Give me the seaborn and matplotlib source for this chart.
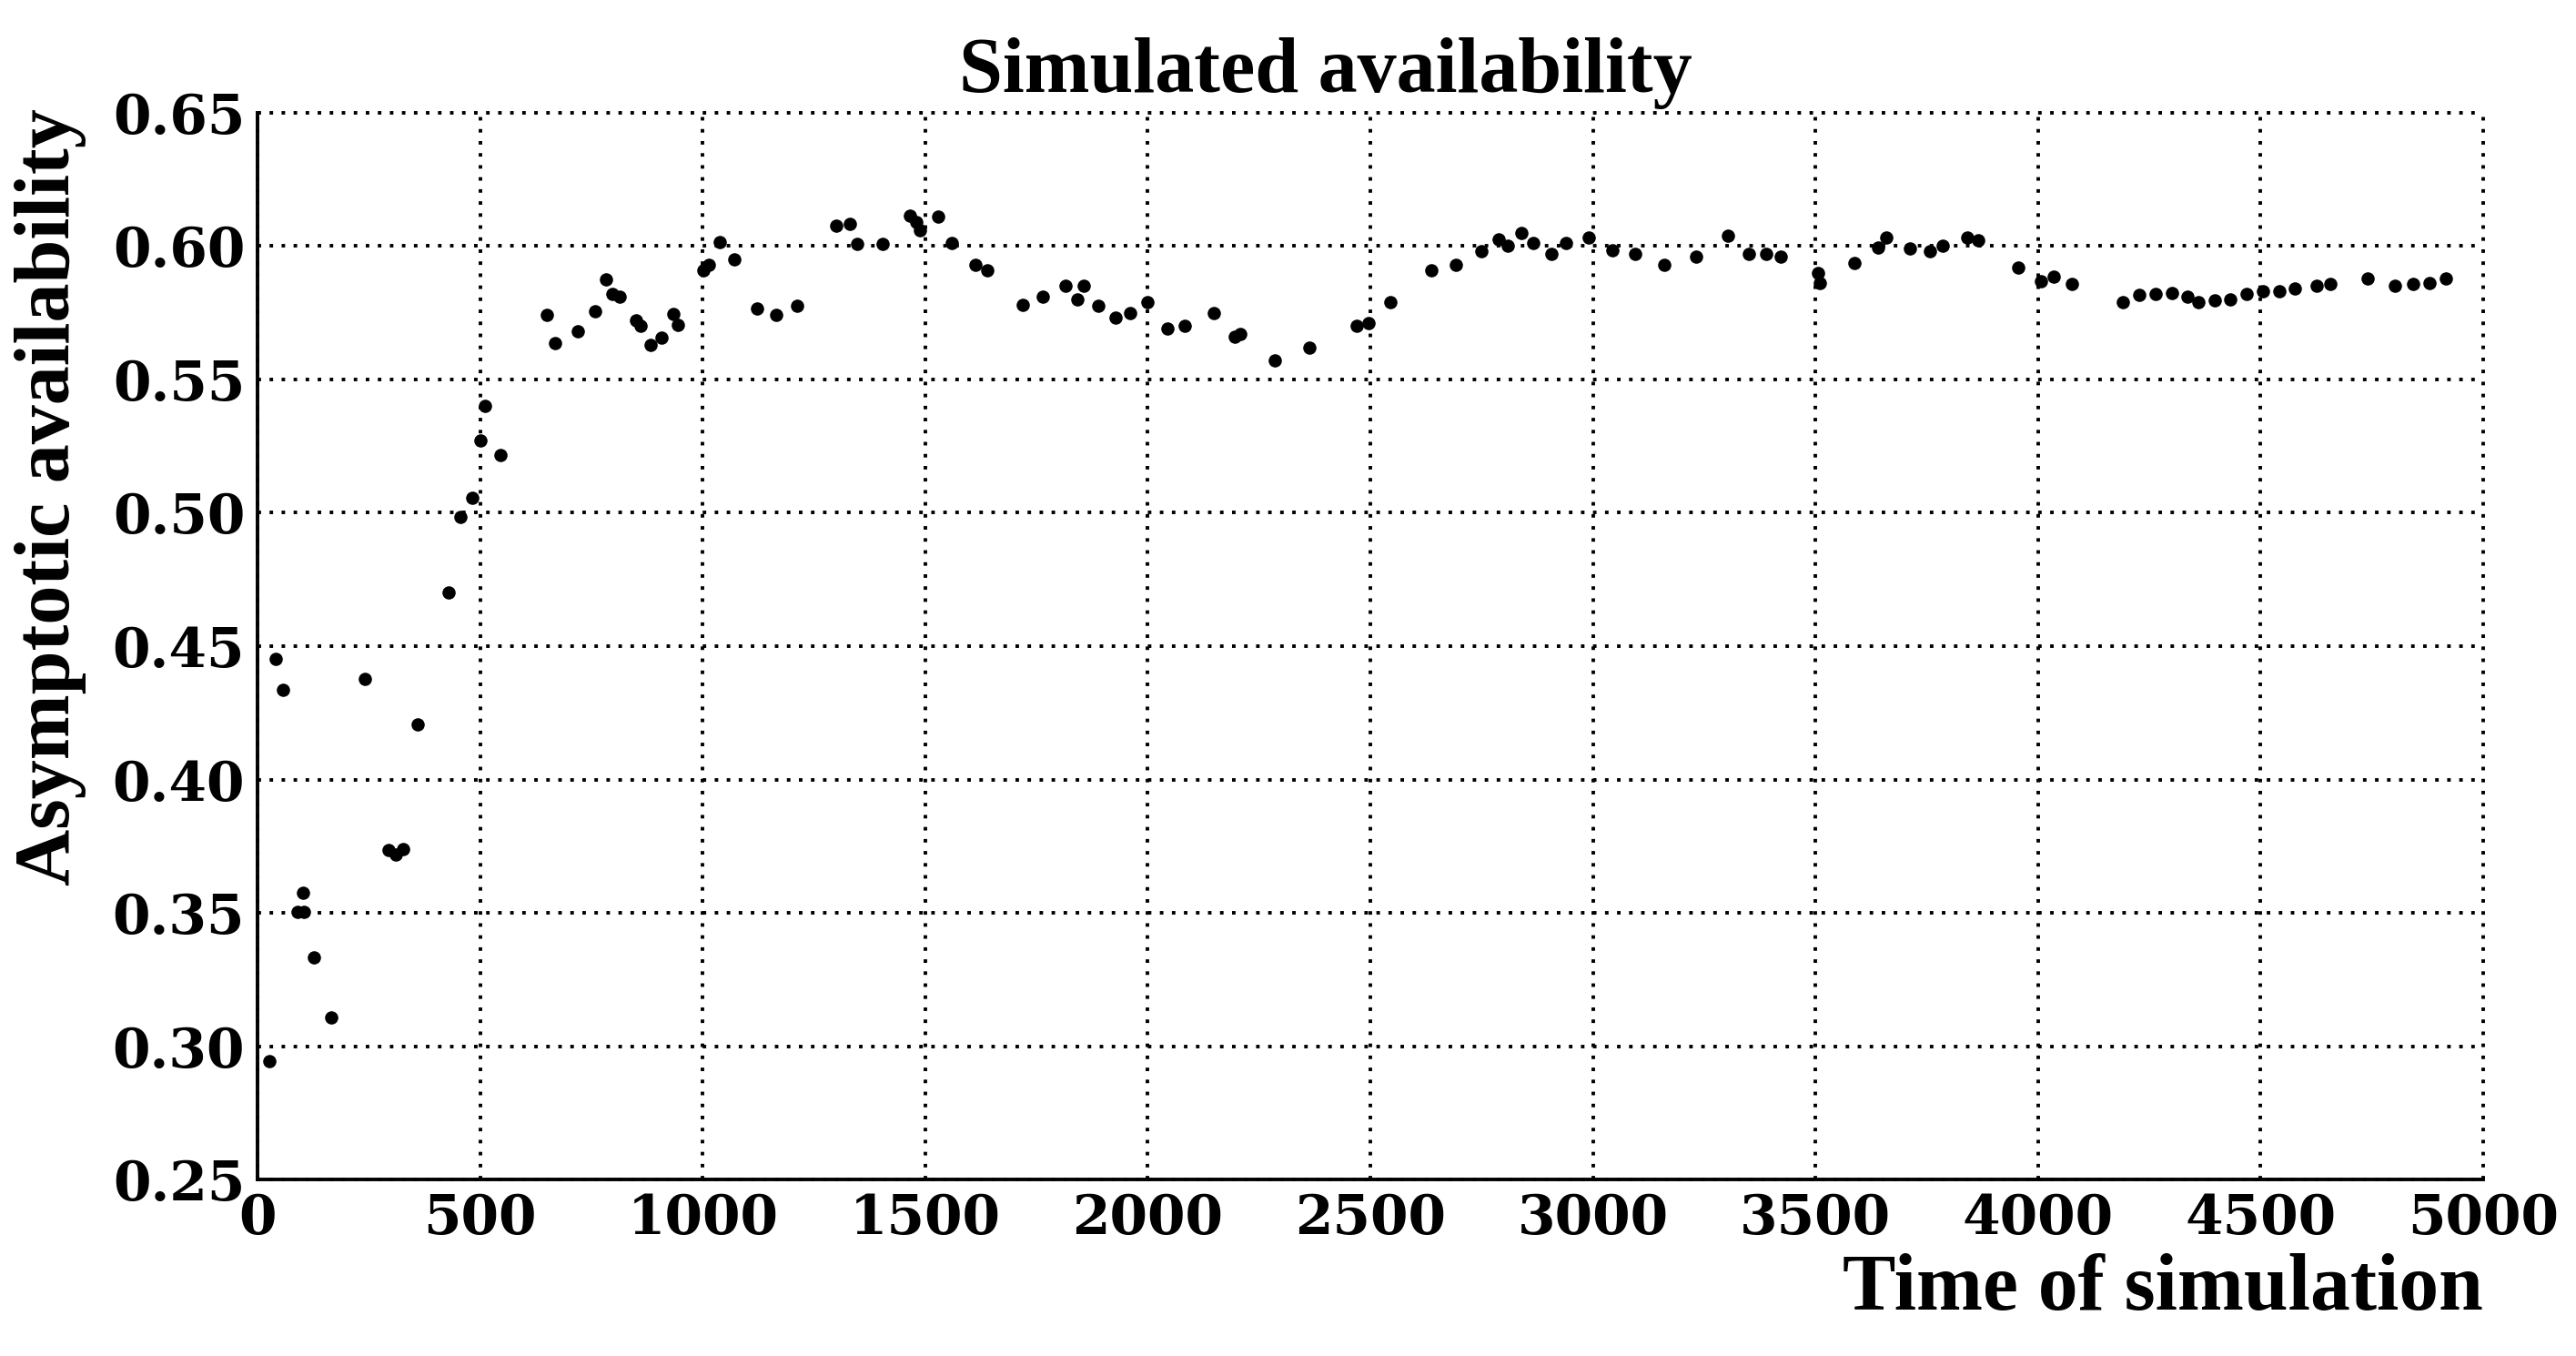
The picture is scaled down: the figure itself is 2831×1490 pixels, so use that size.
import matplotlib
matplotlib.use("Agg")
import matplotlib.pyplot as plt
import seaborn as sns
import pandas as pd

# values
sim_time = [26, 40, 57, 89, 102, 104, 127, 165, 242, 295, 310, 327, 360, 430, 456, 483, 501, 511, 546,
            650, 668, 720, 759, 783, 798, 814, 851, 861, 882, 908, 934, 945, 1002, 1013, 1039, 1070,
            1122, 1164, 1211, 1300, 1331, 1347, 1404, 1466, 1480, 1487, 1529, 1560, 1613, 1640, 1718,
            1764, 1815, 1842, 1855, 1888, 1927, 1960, 1999, 2044, 2083, 2149, 2195, 2208, 2286, 2362,
            2469, 2495, 2544, 2636, 2691, 2749, 2789, 2808, 2840, 2866, 2906, 2939, 2991, 3043, 3095,
            3160, 3232, 3304, 3350, 3389, 3422, 3505, 3510, 3587, 3641, 3659, 3713, 3756, 3786, 3841,
            3865, 3955, 4007, 4034, 4076, 4191, 4227, 4263, 4300, 4336, 4360, 4396, 4432, 4469, 4505,
            4541, 4577, 4626, 4656, 4740, 4801, 4843, 4879, 4915]
availability = [0.2945, 0.4451, 0.4335, 0.3505, 0.3577, 0.3505, 0.3335, 0.3107, 0.4378, 0.3735, 0.3720,
                0.3738, 0.4205, 0.4700, 0.4983, 0.5055, 0.5270, 0.5400, 0.5215,
                0.5743, 0.5636, 0.5680, 0.5755, 0.5875, 0.5820, 0.5810, 0.5720, 0.5700, 0.5628, 0.5657,
                0.5745, 0.5705, 0.5910, 0.5930, 0.6014, 0.5950, 0.5766, 0.5743, 0.5777, 0.6077, 0.6083,
                0.6008, 0.6008, 0.6112, 0.6090, 0.6060, 0.6110, 0.6010, 0.5930, 0.5910, 0.5780, 0.5810,
                0.5850, 0.5800, 0.5850, 0.5775, 0.5730, 0.5750, 0.5790, 0.5690, 0.5700, 0.5750, 0.5660,
                0.5670, 0.5570, 0.5620, 0.5700, 0.5710, 0.5790, 0.5910, 0.5930, 0.5980, 0.6025, 0.6000,
                0.6050, 0.6010, 0.5970, 0.6010, 0.6030, 0.5985, 0.5970, 0.5930, 0.5960, 0.6040, 0.5970,
                0.5970, 0.5960, 0.5900, 0.5860, 0.5937, 0.5995, 0.6030, 0.5990, 0.5980, 0.6000, 0.6030,
                0.6020, 0.5920, 0.5868, 0.5886, 0.5857, 0.5788, 0.5817, 0.5820, 0.5825, 0.5810, 0.5790,
                0.5796, 0.5800, 0.5820, 0.5830, 0.5830, 0.5840, 0.5851, 0.5857, 0.5877, 0.5851, 0.5857,
                0.5860, 0.5877]
x_ticks = [0, 500, 1000, 1500, 2000, 2500, 3000, 3500, 4000, 4500, 5000]
y_ticks = [0.25, 0.30, 0.35, 0.40, 0.45, 0.50, 0.55, 0.60, 0.65]

df = pd.DataFrame({"time": sim_time, "avail": availability})

sns.set_style("white")
plt.rcParams["font.family"] = ["Liberation Serif", "DejaVu Serif"]
plt.rcParams["text.color"] = "black"
plt.rcParams["axes.labelcolor"] = "black"

fig = plt.figure(figsize=(28.31, 14.90), dpi=100)
ax = fig.add_axes([0.100, 0.130, 0.864, 0.787])

sns.scatterplot(data=df, x="time", y="avail", ax=ax, color="black", s=110, linewidth=0)

ax.set_xlim(0, 5000)
ax.set_ylim(0.25, 0.65)
ax.set_xticks(x_ticks)
ax.set_yticks(y_ticks)
ax.set_yticklabels([f"{v:.2f}" for v in y_ticks])

ax.grid(True, color="black", linestyle=(0, (1, 2.4)), linewidth=2.8)
for gl in ax.get_xgridlines() + ax.get_ygridlines():
    gl.set_clip_on(False)
ax.set_axisbelow(True)

for side in ["top", "right"]:
    ax.spines[side].set_visible(False)
for side in ["left", "bottom"]:
    ax.spines[side].set_color("black")
    ax.spines[side].set_linewidth(2.8)

ax.tick_params(direction="in", length=9, width=2, colors="black", labelcolor="black", pad=10)
for lab in ax.get_xticklabels() + ax.get_yticklabels():
    lab.set_fontfamily("DejaVu Serif")
    lab.set_fontweight("bold")
    lab.set_fontsize(43)

ax.set_title("Simulated availability", fontsize=62, fontweight="bold", pad=16, x=0.48, color="black")
ax.set_xlabel("Time of simulation", fontsize=63, fontweight="bold", loc="right", labelpad=6)
ax.set_ylabel("Asymptotic availability", fontsize=62, fontweight="bold")
ax.yaxis.set_label_coords(-0.077, 0.64)

fig.savefig("out.png", dpi=100, facecolor="white")
